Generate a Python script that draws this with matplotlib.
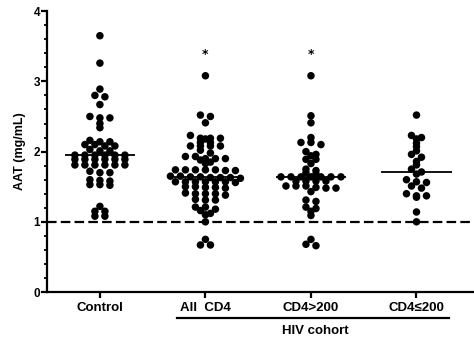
import numpy as np
import matplotlib
matplotlib.use("Agg")
import matplotlib.pyplot as plt
from matplotlib.ticker import MultipleLocator

# AAT values (mg/mL), per group
control = [3.65, 3.26, 2.89, 2.80, 2.78, 2.67, 2.50, 2.48, 2.48, 2.40, 2.34,
           2.16, 2.14, 2.14,
           2.10, 2.10, 2.08, 2.08,
           2.03, 2.01, 2.01,
           1.95, 1.95, 1.95, 1.95, 1.95, 1.95,
           1.89, 1.89, 1.89, 1.89, 1.89, 1.89,
           1.81, 1.81, 1.81, 1.81, 1.81, 1.81,
           1.72, 1.70, 1.70,
           1.60, 1.59, 1.58,
           1.53, 1.53, 1.52,
           1.22, 1.15, 1.15, 1.08, 1.08]
all_cd4 = [3.08, 2.52, 2.50, 2.41, 2.23,
           2.19, 2.19, 2.19, 2.18,
           2.13, 2.13,
           2.08, 2.08, 2.08, 2.08,
           2.02, 1.98,
           1.93, 1.93, 1.90, 1.90, 1.90, 1.88,
           1.85, 1.83,
           1.74, 1.74, 1.73, 1.73, 1.74, 1.74, 1.74,
           1.65, 1.65, 1.64, 1.64, 1.63, 1.63, 1.63, 1.62,
           1.57, 1.57, 1.57, 1.57, 1.56, 1.57, 1.57,
           1.50, 1.50, 1.49, 1.48, 1.49,
           1.40, 1.40, 1.38, 1.40, 1.41,
           1.31, 1.31, 1.32,
           1.21, 1.21, 1.18,
           1.16, 1.12, 1.10,
           1.00, 0.75, 0.67, 0.67]
cd4_high = [3.08, 2.51, 2.41, 2.20,
            2.13, 2.13, 2.10,
            2.00, 1.96, 1.94, 1.89, 1.89, 1.83,
            1.75, 1.73, 1.70, 1.68,
            1.64, 1.64, 1.64, 1.64, 1.64, 1.64, 1.64,
            1.58, 1.58, 1.58, 1.58,
            1.51, 1.51, 1.49, 1.48, 1.48, 1.51,
            1.43, 1.31, 1.29, 1.21, 1.19, 1.15, 1.09,
            0.75, 0.68, 0.66]
cd4_low = [2.52, 2.23, 2.20, 2.18, 2.12, 2.07, 2.01, 1.96, 1.92, 1.86, 1.81,
           1.75, 1.71, 1.68, 1.60, 1.57, 1.56, 1.51, 1.48,
           1.40, 1.37, 1.37, 1.35, 1.14, 1.00]

group_labels = ["Control", "All  CD4", "CD4>200", "CD4\u2264200"]
groups = [control, all_cd4, cd4_high, cd4_low]
starred = [False, True, True, False]
cutoff = 1.0


def column_offsets(ax, values, row_px=3.0, col_px=10.0):
    """Prism-style column scatter: group close values into rows, centre each row."""
    trans = ax.transData
    y_px = trans.transform(np.column_stack([np.zeros(len(values)), values]))[:, 1]
    x_scale = trans.transform([[1, 0]])[0, 0] - trans.transform([[0, 0]])[0, 0]
    order = np.argsort(-y_px, kind="stable")
    rows, current, start = [], [], None
    for i in order:
        if current and start - y_px[i] > row_px:
            rows.append(current)
            current = []
        if not current:
            start = y_px[i]
        current.append(i)
    rows.append(current)
    offsets = np.zeros(len(values))
    for row in rows:
        n = len(row)
        offsets[row] = (np.arange(n) - (n - 1) / 2) * col_px
    return offsets / x_scale


fig = plt.figure(figsize=(4.74, 3.38), dpi=100)
ax = fig.add_axes([0.099, 0.136, 0.901, 0.831])
ax.set_xlim(-0.502, 3.545)
ax.set_ylim(0, 4)

marker_pt = 5.4
for i, vals in enumerate(groups):
    vals = np.array(vals)
    xs = i + column_offsets(ax, vals)
    ax.scatter(xs, vals, s=marker_pt ** 2, color="black", edgecolors="none",
               zorder=3, clip_on=False)
    med = np.median(vals)
    ax.hlines(med, i - 0.335, i + 0.335, color="black", lw=1.3, zorder=4)
    if starred[i]:
        ax.text(i, 3.38, "*", ha="center", va="center", fontsize=9,
                fontweight="bold")

ax.axhline(cutoff, color="black", lw=1.6, linestyle=(0, (4.3, 1.9)), zorder=2)

for side in ["top", "right"]:
    ax.spines[side].set_visible(False)
ax.spines["left"].set_linewidth(1.6)
ax.spines["bottom"].set_linewidth(1.6)

ax.set_xticks(range(len(group_labels)))
ax.set_xticklabels(group_labels, fontsize=9.5, fontweight="bold",
                   family="Liberation Sans")
ax.yaxis.set_major_locator(MultipleLocator(1))
ax.yaxis.set_minor_locator(MultipleLocator(0.2))
ax.tick_params(axis="y", which="major", length=4, width=1.6, labelsize=8.5, pad=1)
ax.tick_params(axis="y", which="minor", length=2.5, width=1.3)
ax.tick_params(axis="x", length=4, width=1.6, pad=3)
for lbl in ax.get_yticklabels():
    lbl.set_fontweight("bold")
    lbl.set_family("Liberation Sans")
ax.set_ylabel("AAT (mg/mL)", fontsize=9, fontweight="bold",
              family="Liberation Sans", labelpad=5)

# bracket for the HIV cohort
fig.add_artist(plt.Line2D([177 / 474, 449 / 474], [1 - 318 / 338, 1 - 318 / 338],
                          color="black", lw=1.6))
fig.text(315 / 474, 1 - 331 / 338, "HIV cohort", ha="center", va="center",
         fontsize=9.5, fontweight="bold", family="Liberation Sans")

fig.savefig("out.png", dpi=100)
